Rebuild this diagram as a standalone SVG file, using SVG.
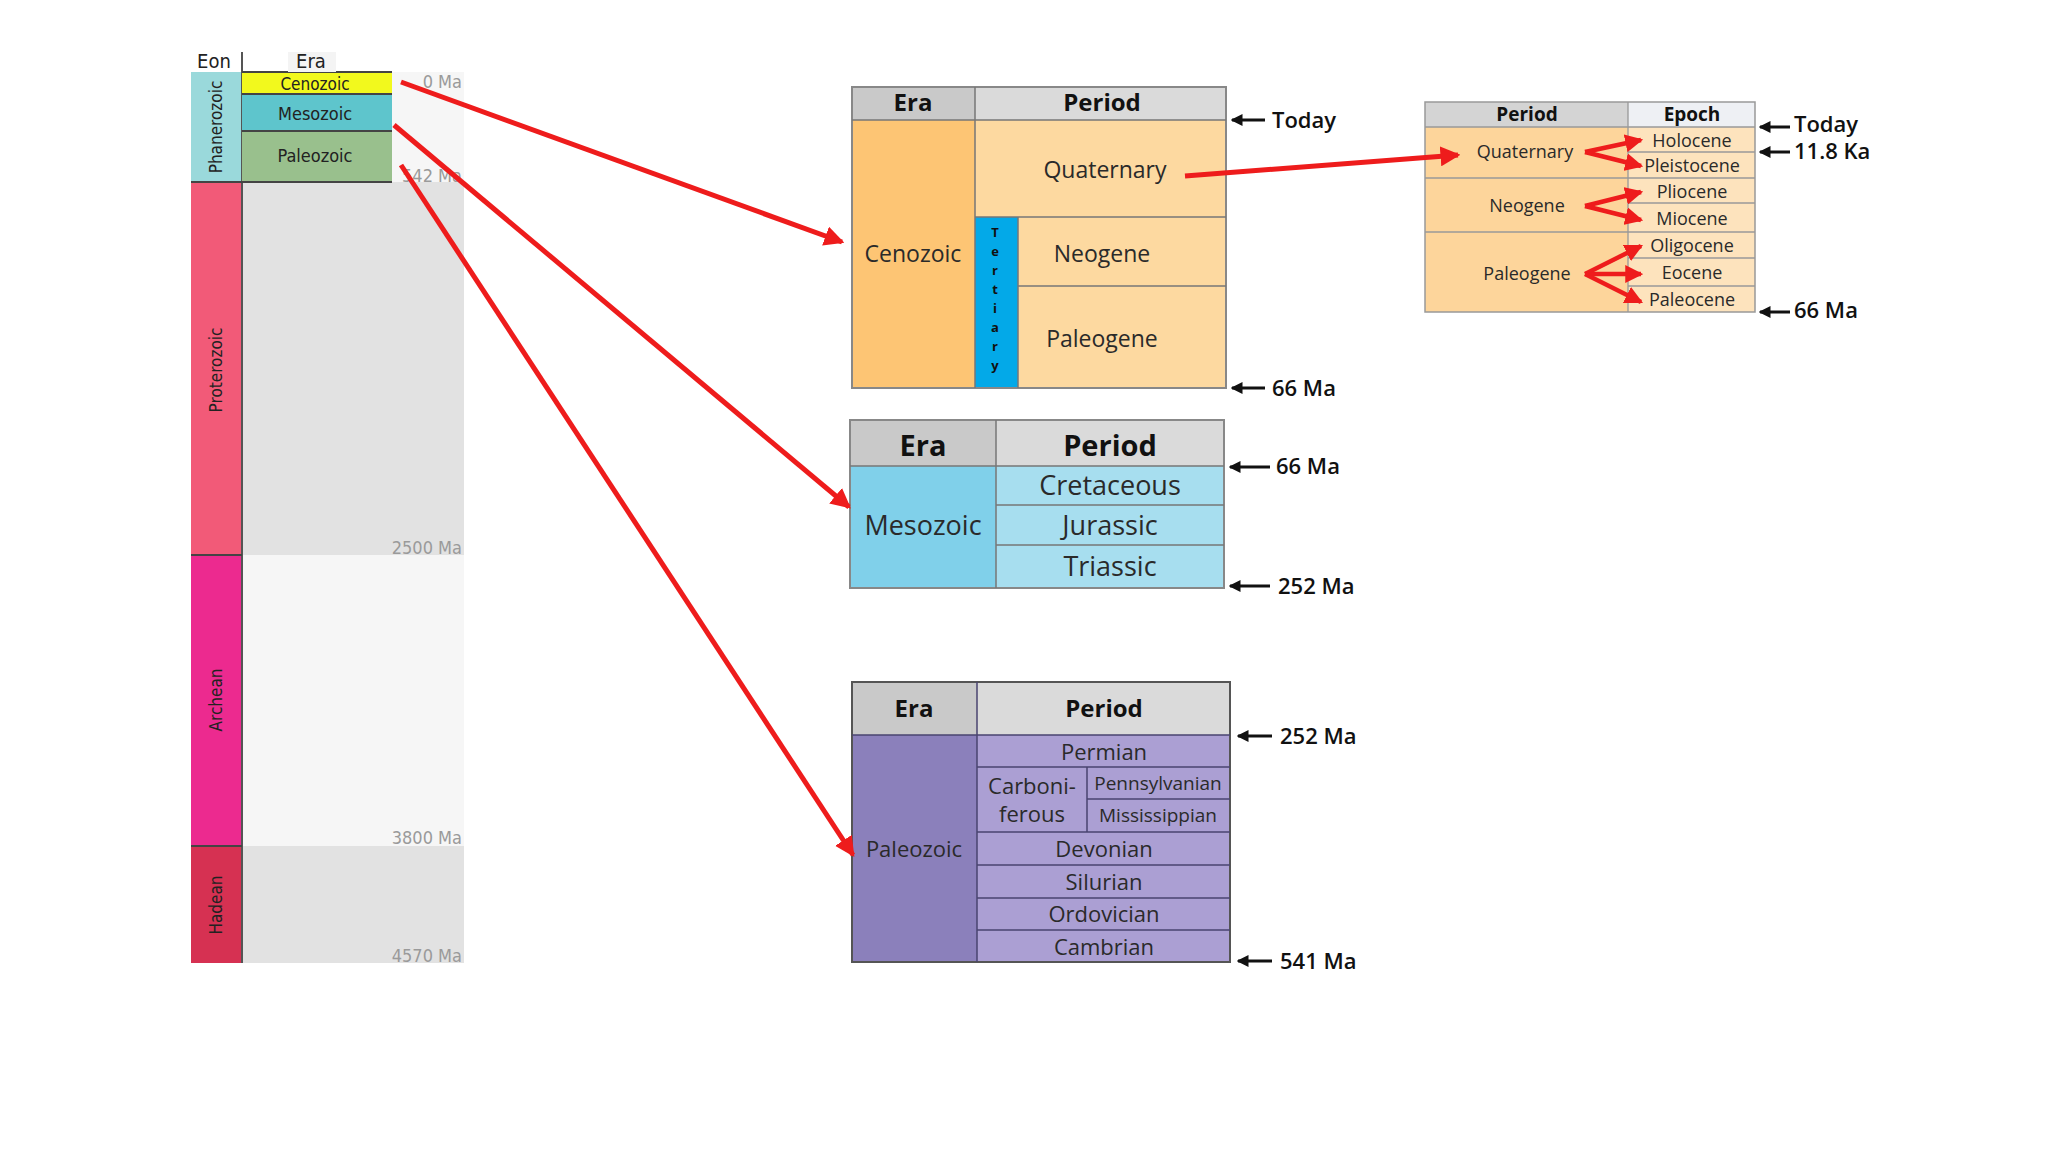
<svg xmlns="http://www.w3.org/2000/svg" width="2048" height="1152" viewBox="0 0 2048 1152">
<defs>
<marker id="ra" markerWidth="4" markerHeight="4" refX="3.5" refY="2" orient="auto" markerUnits="strokeWidth"><path d="M0,0 L4,2 L0,4 z" fill="#ee1c1c"/></marker>
<marker id="ka" markerWidth="4" markerHeight="4" refX="3.5" refY="2" orient="auto" markerUnits="strokeWidth"><path d="M0,0 L4,2 L0,4 z" fill="#111"/></marker>
</defs>
<style>
.c{font-family:"DejaVu Sans Condensed","DejaVu Sans",sans-serif;fill:#222;text-anchor:middle}
.t{font-family:"Open Sans","Noto Sans",sans-serif;fill:#2a2a2a;text-anchor:middle}
.b{font-weight:bold;fill:#111}
.g{fill:#9a9a9a;text-anchor:end}
.ln{stroke:#777;stroke-width:1.5}
.red{stroke:#ee1c1c;stroke-width:5;fill:none;marker-end:url(#ra)}
.red2{stroke:#ee1c1c;stroke-width:4.5;fill:none;marker-end:url(#ra)}
.blk{stroke:#111;stroke-width:3;marker-end:url(#ka)}
.lab{font-family:"Open Sans","Noto Sans",sans-serif;font-size:22px;fill:#111;font-weight:600}
</style>
<rect width="2048" height="1152" fill="#fff"/>
<g id="timescale">
<rect x="242" y="72" width="222" height="110" fill="#f6f6f6"/>
<rect x="242" y="182" width="222" height="373" fill="#e2e2e2"/>
<rect x="242" y="555" width="222" height="291" fill="#f6f6f6"/>
<rect x="242" y="846" width="222" height="117" fill="#e2e2e2"/>
<rect x="191" y="72" width="51" height="110" fill="#9ad9db"/>
<rect x="191" y="182" width="51" height="373" fill="#f25a78"/>
<rect x="191" y="555" width="51" height="291" fill="#ec2a8f"/>
<rect x="191" y="846" width="51" height="117" fill="#d63152"/>
<line x1="242" y1="52" x2="242" y2="963" stroke="#555" stroke-width="2"/>
<rect x="242" y="72" width="150" height="22" fill="#f2f91d"/>
<rect x="242" y="94" width="150" height="37" fill="#5ec5cc"/>
<rect x="242" y="131" width="150" height="51" fill="#99c08d"/>
<path d="M242,72H392M242,94H392M242,131H392M242,182H392M191,182H242M191,555H242M191,846H242" stroke="#444" stroke-width="2"/>
<rect x="288" y="52" width="48" height="20" fill="#f4f4f4"/>
<text class="c" x="214" y="68" font-size="20">Eon</text>
<text class="c" x="311" y="68" font-size="20">Era</text>
<text class="c" x="315" y="90" font-size="17">Cenozoic</text>
<text class="c" x="315" y="120" font-size="18">Mesozoic</text>
<text class="c" x="315" y="162" font-size="18">Paleozoic</text>
<text class="c" font-size="17" transform="translate(222,127) rotate(-90)">Phanerozoic</text>
<text class="c" font-size="17" transform="translate(222,370) rotate(-90)">Proterozoic</text>
<text class="c" font-size="17" transform="translate(222,700) rotate(-90)">Archean</text>
<text class="c" font-size="17" transform="translate(222,905) rotate(-90)">Hadean</text>
<text class="c g" x="462" y="88" font-size="18">0 Ma</text>
<text class="c g" x="462" y="182" font-size="18">542 Ma</text>
<text class="c g" x="462" y="554" font-size="18">2500 Ma</text>
<text class="c g" x="462" y="844" font-size="18">3800 Ma</text>
<text class="c g" x="462" y="962" font-size="18">4570 Ma</text>
</g>
<g id="cenozoic">
<rect x="852" y="87" width="123" height="33" fill="#c9c9c9"/>
<rect x="975" y="87" width="251" height="33" fill="#dadada"/>
<rect x="852" y="120" width="123" height="268" fill="#fdc574"/>
<rect x="975" y="120" width="251" height="268" fill="#fdd9a0"/>
<rect x="975" y="217" width="43" height="171" fill="#03a9e8"/>
<rect x="852" y="87" width="374" height="301" fill="none" stroke="#888" stroke-width="2"/>
<path d="M975,87V388M852,120H1226M975,217H1226M1018,286H1226M1018,217V388" class="ln"/>
<text class="t b" x="913" y="111" font-size="24">Era</text>
<text class="t b" x="1102" y="111" font-size="24">Period</text>
<text class="t" x="1105" y="178" font-size="23">Quaternary</text>
<text class="t" x="913" y="262" font-size="23">Cenozoic</text>
<text class="t" x="1102" y="262" font-size="23">Neogene</text>
<text class="t" x="1102" y="347" font-size="23">Paleogene</text>
<text class="t b" font-size="13" fill="#0b2b6b"><tspan x="995" y="237">T</tspan><tspan x="995" y="256">e</tspan><tspan x="995" y="275">r</tspan><tspan x="995" y="294">t</tspan><tspan x="995" y="313">i</tspan><tspan x="995" y="332">a</tspan><tspan x="995" y="351">r</tspan><tspan x="995" y="370">y</tspan></text>
</g>
<g id="mesozoic">
<rect x="850" y="420" width="146" height="46" fill="#c9c9c9"/>
<rect x="996" y="420" width="228" height="46" fill="#dadada"/>
<rect x="850" y="466" width="146" height="122" fill="#80d0ea"/>
<rect x="996" y="466" width="228" height="122" fill="#a7deef"/>
<rect x="850" y="420" width="374" height="168" fill="none" stroke="#888" stroke-width="2"/>
<path d="M996,420V588M850,466H1224M996,505H1224M996,545H1224" class="ln"/>
<text class="t b" x="923" y="456" font-size="29">Era</text>
<text class="t b" x="1110" y="456" font-size="29">Period</text>
<text class="t" x="1110" y="495" font-size="27">Cretaceous</text>
<text class="t" x="1110" y="535" font-size="27">Jurassic</text>
<text class="t" x="1110" y="576" font-size="27">Triassic</text>
<text class="t" x="923" y="535" font-size="27">Mesozoic</text>
</g>
<g id="paleozoic">
<rect x="852" y="682" width="125" height="53" fill="#c9c9c9"/>
<rect x="977" y="682" width="253" height="53" fill="#dadada"/>
<rect x="852" y="735" width="125" height="227" fill="#8b80bb"/>
<rect x="977" y="735" width="253" height="227" fill="#ab9fd3"/>
<rect x="852" y="682" width="378" height="280" fill="none" stroke="#555" stroke-width="2"/>
<path d="M977,682V962M852,735H1230M977,767H1230M1087,767V832M1087,799H1230M977,832H1230M977,865H1230M977,898H1230M977,930H1230" stroke="#4a4470" stroke-width="1.5"/>
<text class="t b" x="914" y="717" font-size="24">Era</text>
<text class="t b" x="1104" y="717" font-size="24">Period</text>
<text class="t" x="1104" y="760" font-size="22">Permian</text>
<text class="t" x="1032" y="794" font-size="22">Carboni-</text>
<text class="t" x="1032" y="822" font-size="22">ferous</text>
<text class="t" x="1158" y="790" font-size="19">Pennsylvanian</text>
<text class="t" x="1158" y="822" font-size="19">Mississippian</text>
<text class="t" x="1104" y="857" font-size="22">Devonian</text>
<text class="t" x="1104" y="890" font-size="22">Silurian</text>
<text class="t" x="1104" y="922" font-size="22">Ordovician</text>
<text class="t" x="1104" y="955" font-size="22">Cambrian</text>
<text class="t" x="914" y="857" font-size="22">Paleozoic</text>
</g>
<g id="epochs">
<rect x="1425" y="102" width="203" height="25" fill="#d4d4d4"/>
<rect x="1628" y="102" width="127" height="25" fill="#eef0f4"/>
<rect x="1425" y="127" width="203" height="185" fill="#fdd59b"/>
<rect x="1628" y="127" width="127" height="185" fill="#fde3bd"/>
<rect x="1425" y="102" width="330" height="210" fill="none" stroke="#999" stroke-width="1.5"/>
<path d="M1628,102V312M1425,127H1755M1425,178H1755M1425,232H1755M1628,152H1755M1628,203H1755M1628,258H1755M1628,286H1755" stroke="#999" stroke-width="1.3"/>
<text class="t b" x="1527" y="121" font-size="19">Period</text>
<text class="t b" x="1692" y="121" font-size="19">Epoch</text>
<text class="t" x="1525" y="158" font-size="18">Quaternary</text>
<text class="t" x="1527" y="212" font-size="18">Neogene</text>
<text class="t" x="1527" y="280" font-size="18">Paleogene</text>
<text class="t" x="1692" y="147" font-size="18">Holocene</text>
<text class="t" x="1692" y="172" font-size="18">Pleistocene</text>
<text class="t" x="1692" y="198" font-size="18">Pliocene</text>
<text class="t" x="1692" y="225" font-size="18">Miocene</text>
<text class="t" x="1692" y="252" font-size="18">Oligocene</text>
<text class="t" x="1692" y="279" font-size="18">Eocene</text>
<text class="t" x="1692" y="306" font-size="18">Paleocene</text>
</g>
<g id="connectors">
<line class="red" x1="401" y1="82" x2="842" y2="242"/>
<line class="red" x1="394" y1="125" x2="849" y2="507"/>
<line class="red" x1="401" y1="165" x2="853" y2="855"/>
<line class="red" x1="1185" y1="176" x2="1458" y2="155"/>
<path class="red2" d="M1585,152 L1641,140"/>
<path class="red2" d="M1585,152 L1641,166"/>
<path class="red2" d="M1585,206 L1641,192"/>
<path class="red2" d="M1585,206 L1641,220"/>
<path class="red2" d="M1585,274 L1641,246"/>
<path class="red2" d="M1585,274 L1641,274"/>
<path class="red2" d="M1585,274 L1641,302"/>
<line class="blk" x1="1265" y1="120" x2="1232" y2="120"/>
<line class="blk" x1="1265" y1="388" x2="1232" y2="388"/>
<line class="blk" x1="1270" y1="467" x2="1230" y2="467"/>
<line class="blk" x1="1270" y1="586" x2="1230" y2="586"/>
<line class="blk" x1="1272" y1="736" x2="1238" y2="736"/>
<line class="blk" x1="1272" y1="961" x2="1238" y2="961"/>
<line class="blk" x1="1790" y1="127" x2="1760" y2="127"/>
<line class="blk" x1="1790" y1="152" x2="1760" y2="152"/>
<line class="blk" x1="1790" y1="312" x2="1760" y2="312"/>
</g>
<g id="labels">
<text class="lab" x="1272" y="128" font-size="24">Today</text>
<text class="lab" x="1272" y="396">66 Ma</text>
<text class="lab" x="1276" y="474">66 Ma</text>
<text class="lab" x="1278" y="594">252 Ma</text>
<text class="lab" x="1280" y="744">252 Ma</text>
<text class="lab" x="1280" y="969">541 Ma</text>
<text class="lab" x="1794" y="132" font-size="16">Today</text>
<text class="lab" x="1794" y="159" font-size="16">11.8 Ka</text>
<text class="lab" x="1794" y="318" font-size="16">66 Ma</text>
</g>
</svg>
